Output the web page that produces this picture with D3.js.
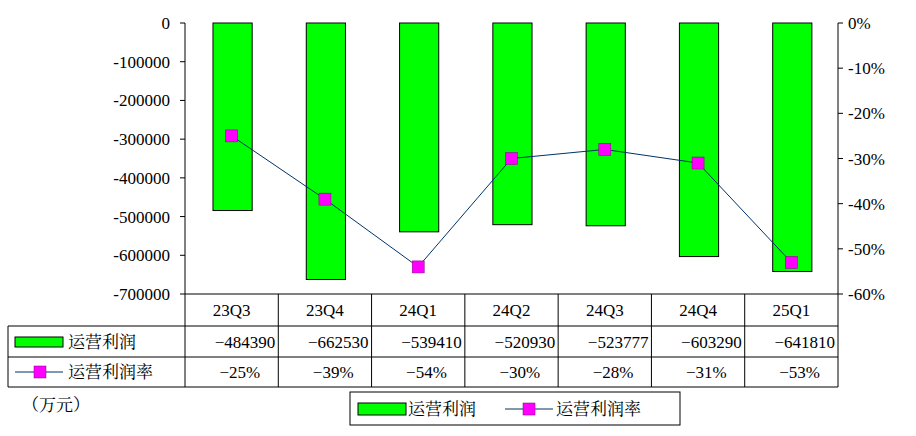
<!DOCTYPE html>
<html><head><meta charset="utf-8">
<script src="https://cdn.jsdelivr.net/npm/d3@7"></script>
<style>
body{margin:0;background:#fff}
text{font-family:"Liberation Serif","Noto Serif CJK SC","Noto Sans CJK SC",serif;font-size:17px;fill:#000}
</style></head><body>
<div id="chart"></div>
<script>
// data
const quarters = ["23Q3","23Q4","24Q1","24Q2","24Q3","24Q4","25Q1"];
const profit = [-484390,-662530,-539410,-520930,-523777,-603290,-641810];
const rate = [-25,-39,-54,-30,-28,-31,-53];
const leftTicks = [0,-100000,-200000,-300000,-400000,-500000,-600000,-700000];
const rightTicks = [0,-10,-20,-30,-40,-50,-60];

const W = 916, H = 436;
const svg = d3.select("#chart").append("svg").attr("width", W).attr("height", H);

const x = d3.scaleBand().domain(quarters).range([185, 838]);
const yL = d3.scaleLinear().domain([-700000, 0]).range([294, 23]);
const yR = d3.scaleLinear().domain([-60, 0]).range([294, 23]);

// bars
svg.selectAll("rect.bar").data(profit).enter().append("rect")
  .attr("class","bar")
  .attr("x",(d,i)=>x(quarters[i]) + x.bandwidth()*0.3)
  .attr("width", x.bandwidth()*0.42)
  .attr("y", yL(0))
  .attr("height", d=>yL(d)-yL(0))
  .attr("fill","#00ff00").attr("stroke","#000").attr("stroke-width",1);

// axes
svg.append("line").attr("x1",185).attr("x2",185).attr("y1",23).attr("y2",294).attr("stroke","#000");
svg.append("line").attr("x1",838).attr("x2",838).attr("y1",23).attr("y2",294).attr("stroke","#000");
svg.selectAll("line.lt").data(leftTicks).enter().append("line")
  .attr("x1",180).attr("x2",185).attr("y1",d=>yL(d)).attr("y2",d=>yL(d)).attr("stroke","#000");
svg.selectAll("text.lt").data(leftTicks).enter().append("text")
  .attr("x",170).attr("y",d=>yL(d)+6).attr("text-anchor","end").text(d=>d===0?"0":"-"+Math.abs(d));
svg.selectAll("line.rt").data(rightTicks).enter().append("line")
  .attr("x1",838).attr("x2",843).attr("y1",d=>yR(d)).attr("y2",d=>yR(d)).attr("stroke","#000");
svg.selectAll("text.rt").data(rightTicks).enter().append("text")
  .attr("x",848).attr("y",d=>yR(d)+6).text(d=>d===0?"0%":"-"+Math.abs(d)+"%");

// rate line
const line = d3.line().x((d,i)=>x(quarters[i])+x.bandwidth()/2).y(d=>yR(d));
svg.append("path").attr("d",line(rate)).attr("fill","none").attr("stroke","#003366").attr("stroke-width",1);
svg.selectAll("rect.mk").data(rate).enter().append("rect")
  .attr("x",(d,i)=>x(quarters[i])+x.bandwidth()/2-6).attr("y",d=>yR(d)-6)
  .attr("width",12).attr("height",12).attr("fill","#ff00ff").attr("stroke","#800080").attr("stroke-width",0.5);

// table
const rows = [294, 326, 357, 387];
rows.forEach((y,i)=>{
  svg.append("line").attr("x1", i===0?185:8).attr("x2",838).attr("y1",y).attr("y2",y).attr("stroke","#000");
});
svg.append("line").attr("x1",8).attr("x2",8).attr("y1",326).attr("y2",387).attr("stroke","#000");
quarters.forEach((q,i)=>{
  const xe = x(q)+x.bandwidth();
  svg.append("line").attr("x1",xe).attr("x2",xe).attr("y1",294).attr("y2",387).attr("stroke","#000");
});
svg.append("line").attr("x1",185).attr("x2",185).attr("y1",294).attr("y2",387).attr("stroke","#000");
svg.selectAll("text.q").data(quarters).enter().append("text")
  .attr("x",d=>x(d)+x.bandwidth()/2).attr("y",316).attr("text-anchor","middle").text(d=>d);
svg.selectAll("text.p").data(profit).enter().append("text")
  .attr("x",(d,i)=>x(quarters[i])+x.bandwidth()-3).attr("y",348).attr("text-anchor","end").text(d=>"\u2212"+Math.abs(d));
svg.selectAll("text.r").data(rate).enter().append("text")
  .attr("x",(d,i)=>x(quarters[i])+x.bandwidth()-18).attr("y",378).attr("text-anchor","end").text(d=>"\u2212"+Math.abs(d)+"%");

// row legends
svg.append("rect").attr("x",15).attr("y",337).attr("width",48).attr("height",10).attr("fill","#00ff00").attr("stroke","#000");
svg.append("text").attr("x",68).attr("y",348).text("运营利润");
svg.append("line").attr("x1",15).attr("x2",63).attr("y1",372).attr("y2",372).attr("stroke","#003366");
svg.append("rect").attr("x",34).attr("y",366).attr("width",12).attr("height",12).attr("fill","#ff00ff").attr("stroke","#800080").attr("stroke-width",0.5);
svg.append("text").attr("x",68).attr("y",378).text("运营利润率");

svg.append("text").attr("x",22).attr("y",411).text("（万元）");

// bottom legend
svg.append("rect").attr("x",350).attr("y",392).attr("width",330).attr("height",33).attr("fill","none").attr("stroke","#000");
svg.append("rect").attr("x",358).attr("y",403).attr("width",48).attr("height",12).attr("fill","#00ff00").attr("stroke","#000");
svg.append("text").attr("x",408).attr("y",415).text("运营利润");
svg.append("line").attr("x1",505).attr("x2",553).attr("y1",409).attr("y2",409).attr("stroke","#003366");
svg.append("rect").attr("x",523).attr("y",403).attr("width",12).attr("height",12).attr("fill","#ff00ff").attr("stroke","#800080").attr("stroke-width",0.5);
svg.append("text").attr("x",556).attr("y",415).text("运营利润率");
</script></body></html>
